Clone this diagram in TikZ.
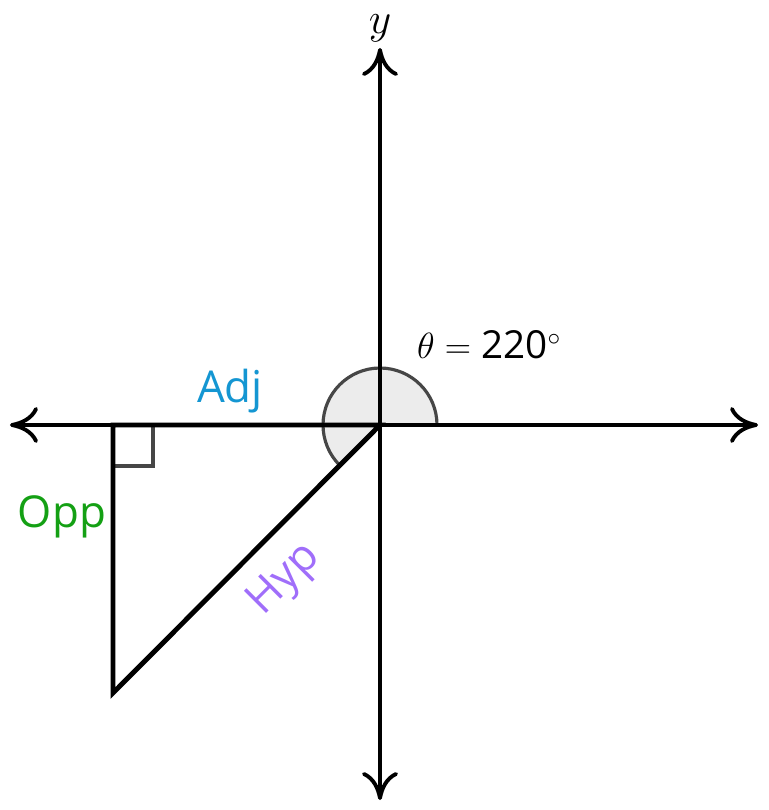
\documentclass[tikz,border=0pt]{standalone}
\usepackage{amsmath}
\usepackage{fontspec}
\setmainfont{Open Sans}
\usetikzlibrary{arrows.meta}
\definecolor{adjblue}{RGB}{20,150,210}
\definecolor{oppgreen}{RGB}{20,160,20}
\definecolor{hyppurple}{RGB}{160,110,250}
\definecolor{arcgray}{RGB}{70,70,70}
\tikzset{
  axis/.style={line width=2.2pt,
    {Computer Modern Rightarrow[length=0.56cm,width=0.72cm]}-{Computer Modern Rightarrow[length=0.56cm,width=0.72cm]}},
  side/.style={line width=2.8pt,line join=miter},
  mark90/.style={line width=1.8pt,draw=arcgray},
  label/.style={font=\fontsize{25}{30}\selectfont,inner sep=1pt}
}
\begin{document}
\begin{tikzpicture}[x=0.02cm,y=0.02cm]
    \useasboundingbox (-380,-385) rectangle (388,425);
    % points of the axes and the triangle
    \coordinate (O) at (0,0);
    \coordinate (xl) at (-370,0);
    \coordinate (xr) at (378,0);
    \coordinate (yb) at (0,-375);
    \coordinate (yt) at (0,377);
    \coordinate (A) at (-267,0);
    \coordinate (B) at (-267,-268);
    % angle
    \filldraw[fill=gray!15,draw=arcgray,line width=1.8pt] (O) -- (57,0) arc[start angle=0,end angle=225,radius=1.14cm] -- cycle;
    \draw[axis] (xl) -- (xr);
    \draw[axis] (yb) -- (yt);
    \draw[mark90] (A) rectangle +(40,-41);
    \draw[side] (O) -- (A) -- (B) -- cycle;
    % labels
    \node[inner sep=1pt] (ylab) at (0,397) {\fontsize{25}{30}\selectfont$y$};
    \node[anchor=west,font=\fontsize{22}{26}\selectfont] (theta) at (31,80) {$\theta=$ 220$^\circ$};
    \node[label,text=adjblue] (adj) at (-150,34) {Adj};
    \node[label,text=oppgreen] (opp) at (-318,-92) {Opp};
    \node[label,text=hyppurple,rotate=45] (hyp) at (-95,-155) {Hyp};
\end{tikzpicture}
\end{document}
